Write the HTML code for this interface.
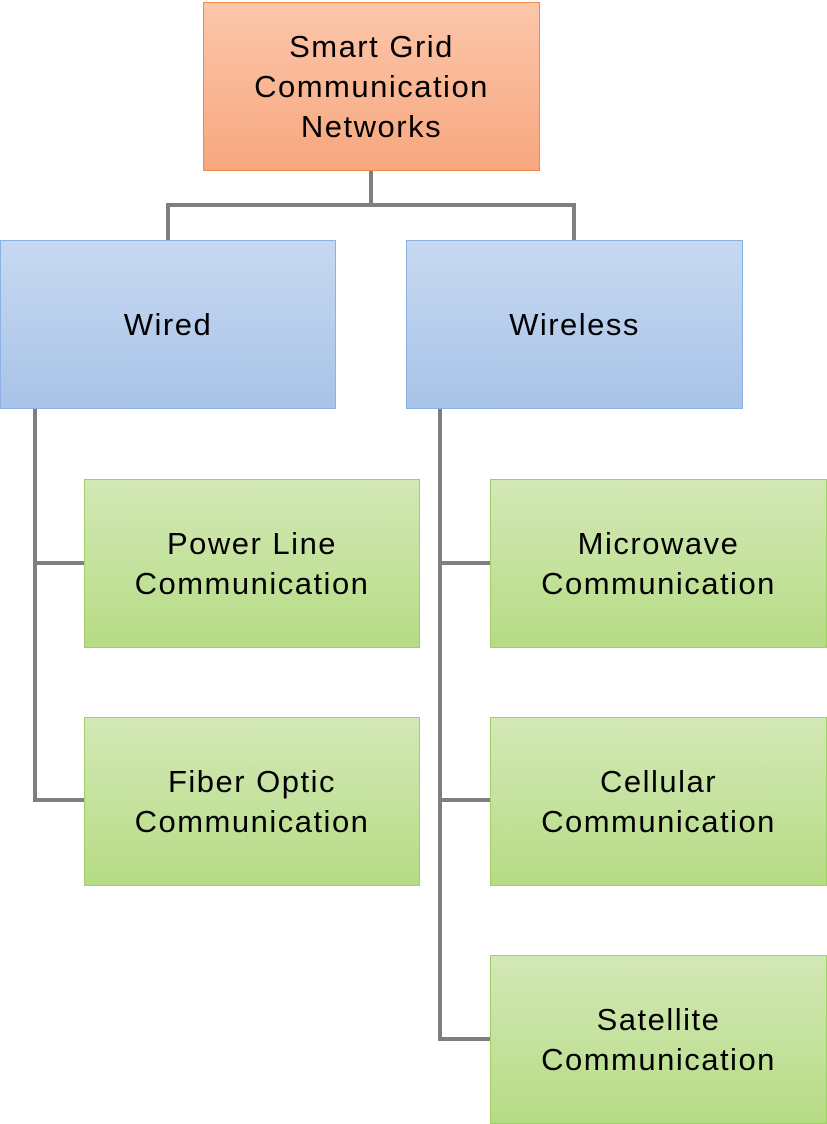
<!DOCTYPE html>
<html><head><meta charset="utf-8"><style>
html,body{margin:0;padding:0;background:#fff;}
body{width:827px;height:1124px;position:relative;overflow:hidden;font-family:"Liberation Sans",sans-serif;}
.b{position:absolute;box-sizing:border-box;display:flex;align-items:center;justify-content:center;text-align:center;font-size:31px;letter-spacing:1.5px;line-height:40px;color:#000;}
.o{background:linear-gradient(#fcc6ab,#f7a77e);border:1.5px solid #f0894a;}
.bl{background:linear-gradient(#c7d9f1,#a8c3e8);border:1.5px solid #8db1e2;}
.g{background:linear-gradient(#d3e8b7,#b6dc84);border:1.5px solid #9fcf66;}
.l{position:absolute;background:#7f7f7f;}
</style></head><body>
<div class="l" style="left:369px;top:170px;width:4px;height:37px"></div>
<div class="l" style="left:166px;top:203px;width:410px;height:4px"></div>
<div class="l" style="left:166px;top:203px;width:4px;height:38px"></div>
<div class="l" style="left:572px;top:203px;width:4px;height:38px"></div>
<div class="l" style="left:33px;top:408px;width:4px;height:394px"></div>
<div class="l" style="left:33px;top:561px;width:52px;height:4px"></div>
<div class="l" style="left:33px;top:798px;width:52px;height:4px"></div>
<div class="l" style="left:438px;top:408px;width:4px;height:633px"></div>
<div class="l" style="left:438px;top:561px;width:53px;height:4px"></div>
<div class="l" style="left:438px;top:798px;width:53px;height:4px"></div>
<div class="l" style="left:438px;top:1037px;width:53px;height:4px"></div>
<div class="b o" style="left:203px;top:2px;width:337px;height:169px">Smart Grid<br>Communication<br>Networks</div>
<div class="b bl" style="left:0px;top:240px;width:336px;height:169px">Wired</div>
<div class="b bl" style="left:406px;top:240px;width:337px;height:169px">Wireless</div>
<div class="b g" style="left:84px;top:479px;width:336px;height:169px">Power Line<br>Communication</div>
<div class="b g" style="left:84px;top:717px;width:336px;height:169px">Fiber Optic<br>Communication</div>
<div class="b g" style="left:490px;top:479px;width:337px;height:169px">Microwave<br>Communication</div>
<div class="b g" style="left:490px;top:717px;width:337px;height:169px">Cellular<br>Communication</div>
<div class="b g" style="left:490px;top:955px;width:337px;height:169px">Satellite<br>Communication</div>
</body></html>
